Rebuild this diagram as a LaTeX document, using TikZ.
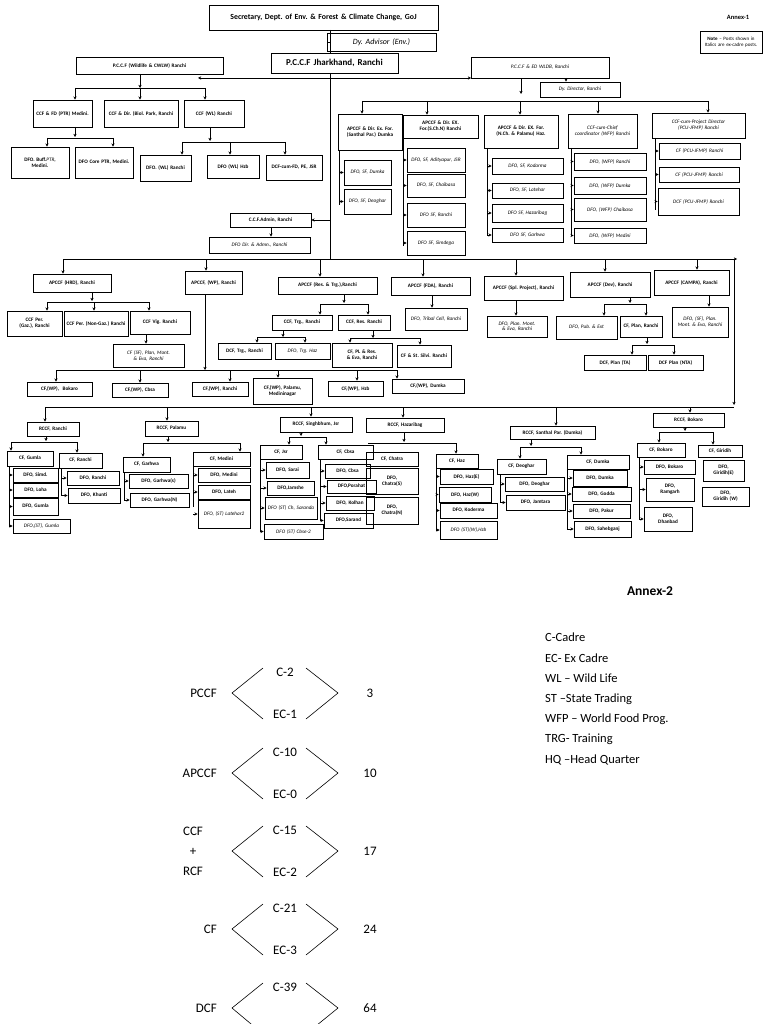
\documentclass[tikz,border=0pt]{standalone}
\usepackage{fontspec}
\setmainfont{Carlito}
\usetikzlibrary{arrows.meta}
\frenchspacing
\hyphenpenalty=10000
\exhyphenpenalty=10000
\tikzset{
 bx/.style={draw,line width=0.8pt,align=center,inner sep=0.5pt,font=\bfseries\fontsize{5.2}{5.9}\selectfont},
 it/.style={font=\itshape\fontsize{5.2}{5.9}\selectfont},
 ln/.style={line width=0.7pt},
 ar/.style={line width=0.7pt,-{Stealth[length=3.2pt,width=3.2pt]}},
 big/.style={font=\fontsize{13}{14}\selectfont,inner sep=0pt}
}
\newcommand\B[7][]{\pgfmathsetmacro\bw{#5-#3}\pgfmathsetmacro\bh{#6-#4}\pgfmathsetmacro\tw{#5-#3-1.5}%
 \node[bx,#1,minimum width=\bw pt,minimum height=\bh pt,text width=\tw pt] (#2) at ({(#3+#5)/2},{(#4+#6)/2}) {#7};}
\newcommand\D[3]{\draw[ar] (#1,#2) -- (#1,0 |- #3.north);}
\newcommand\R[2]{\draw[ar] (#1,0 |- #2.west) -- (#2.west);}
\newcommand\V[3]{\draw[ln] (#1,#2) -- (#1,#3);}
\newcommand\HH[3]{\draw[ln] (#1,#3) -- (#2,#3);}
\newcommand\Dm[6]{%
 \node[big,anchor=east] (l#6) at (217,#1) {#2};
 \node[big] (t#6) at (285,{#1-21}) {#3};
 \node[big] (b#6) at (285,{#1+21}) {#4};
 \node[big] (n#6) at (370,#1) {#5};
 \draw[line width=0.6pt] (263,{#1-25}) -- (232,#1) -- (263,{#1+26});
 \draw[line width=0.6pt] (306,{#1-25}) -- (338,#1) -- (306,{#1+26});}
\begin{document}
\begin{tikzpicture}[x=1pt,y=-1pt]
\useasboundingbox (0,0) rectangle (768,1024);
\fill[white] (0,0) rectangle (768,1024);
% ---------- top
\B[font=\bfseries\fontsize{7.8}{8}\selectfont]{sec}{209}{5}{438}{30}{Secretary, Dept. of Env. \& Forest \& Climate Change, GoJ}
\B[font=\itshape\fontsize{8}{8}\selectfont]{dyadv}{327}{33}{436}{51}{Dy. Advisor (Env.)}
\B[font=\bfseries\fontsize{9}{9}\selectfont]{pccf}{271}{53}{398}{73}{P.C.C.F Jharkhand, Ranchi}
\B{wl}{76}{57}{223}{74}{P.C.C.F (Wildlife \& CWLW) Ranchi}
\B[it]{edw}{471}{57}{609}{78}{P.C.C.F \& ED WLDB, Ranchi}
\B[it]{dydir}{540}{82}{620}{97}{Dy. Director, Ranchi}
\node[font=\bfseries\fontsize{6.5}{7}\selectfont] (annex1) at (738,17) {Annex-1};
\B[font=\fontsize{5}{6.2}\selectfont]{note}{700}{31}{762}{53}{\textbf{Note} -- Posts shown in Italics are ex-cadre posts.}
\V{330}{30}{53}
\draw[ln] (330,42) -- (dyadv.west);
\V{330}{73}{259}
\draw[ar] (330,78) -- (198,78);
\draw[ar] (330,78) -- (471,78);
\draw[ar] (566,78) -- (dydir.north -| 566,0);
\draw[ar] (521,79) -- (521,94);
% ---------- wildlife
\draw[ar] (140,74) -- (140,88);
\HH{75}{205}{88}
\B{c1}{33}{100}{92}{127}{CCF \& FD (PTR) Medini.}
\B{c2}{104}{100}{178}{127}{CCF \& Dir. (Biol. Park, Ranchi}
\B{c3}{184}{100}{244}{127}{CCF (WL) Ranchi}
\D{75}{88}{c1}\D{140}{88}{c2}\D{205}{88}{c3}
\draw[ar] (75,127) -- (75,137);
\HH{47}{113}{138}
\B{d1}{11}{147}{69}{178}{DFO. Buff.\textit{\mdseries PTR},\\ Medini.}
\B{d2}{75}{147}{133}{178}{DFO Core PTR, Medini.}
\D{47}{138}{d1}\D{113}{138}{d2}
\draw[ar] (210,127) -- (210,141);
\HH{182}{285}{142}
\B{d3}{140}{155}{191}{181}{DFO. (WL) Ranchi}
\B{d4}{207}{155}{259}{178}{DFO (WL) Hzb}
\B{d5}{266}{155}{322}{180}{DCF-cum-FD, PE, JSR}
\D{182}{142}{d3}\D{230}{142}{d4}\D{285}{142}{d5}
\B{adm}{230}{213}{311}{227}{C.C.F.Admin, Ranchi}
\B[it]{dfodir}{209}{237}{310}{253}{DFO Dir. \& Admn., Ranchi}
\draw[ar] (330,0 |- adm.east) -- (adm.east);
\draw[ar] (271,227) -- (dfodir.north -| 271,0);
% ---------- ex-cadre top row
\HH{362}{709}{101}
\B{a1}{338}{114}{402}{150}{APCCF \& Dir. Ex. For. (Santhal Par.) Dumka}
\B{a2}{403}{115}{478}{138}{APCCF \& Dir. EX. For.(S.Ch.N) Ranchi}
\B{a3}{484}{115}{558}{148}{APCCF \& Dir. EX. For. (N.Ch. \& Palamu) Haz.}
\B[it]{a4}{568}{114}{637}{148}{CCF-cum-Chief coordinator (WFP) Ranchi}
\B[it]{a5}{652}{113}{745}{138}{CCF-cum-Project Director (PCU-JFMP) Ranchi}
\D{362}{101}{a1}\D{427}{101}{a2}\D{520}{101}{a3}\D{598}{101}{a4}\D{708}{101}{a5}
\B[it]{e1}{344}{160}{391}{185}{DFO, SF, Dumka}
\B[it]{e2}{344}{189}{391}{214}{DFO, SF, Deoghar}
\V{339}{150}{205}\R{339}{e1}\R{339}{e2}
\B[it]{e3}{407}{148}{465}{172}{DFO, SF, Adityapur, JSR}
\B[it]{e4}{407}{174}{465}{197}{DFO, SF, Chaibasa}
\B[it]{e5}{407}{203}{465}{227}{DFO SF, Ranchi}
\B[it]{e6}{407}{231}{465}{255}{DFO SF, Simdega}
\V{403}{138}{246}\R{403}{e3}\R{403}{e4}\R{403}{e5}\R{403}{e6}
\B[it]{e7}{492}{158}{563}{174}{DFO, SF, Kodarma}
\B[it]{e8}{492}{183}{563}{198}{DFO, SF, Latehar}
\B[it]{e9}{492}{204}{563}{222}{DFO SF, Hazaribag}
\B[it]{e10}{492}{228}{563}{242}{DFO SF, Garhwa}
\V{487}{148}{236}\R{487}{e7}\R{487}{e8}\R{487}{e9}\R{487}{e10}
\B[it]{e11}{574}{153}{646}{170}{DFO, (WFP) Ranchi}
\B[it]{e12}{574}{177}{646}{194}{DFO, (WFP) Dumka}
\B[it]{e13}{574}{198}{646}{221}{DFO, (WFP) Chaibasa}
\B[it]{e14}{574}{228}{646}{243}{DFO, (WFP) Medini}
\V{571}{148}{236}\R{571}{e11}\R{571}{e12}\R{571}{e13}\R{571}{e14}
\B[it]{e15}{659}{143}{740}{159}{CF (PCU-JFMP) Ranchi}
\B[it]{e16}{659}{167}{739}{182}{CF (PCU-JFMP) Ranchi}
\B[it]{e17}{658}{188}{739}{215}{DCF (PCU-JFMP) Ranchi}
\V{655}{138}{210}\R{655}{e15}\R{655}{e16}\R{655}{e17}
% ---------- second row
\draw[ar] (63,259) -- (737,259);
\HH{63}{330}{259}
\B{hrd}{33}{274}{111}{292}{APCCF (HRD), Ranchi}
\B{wp}{185}{271}{242}{294}{APCCF, (WP), Ranchi}
\B{res}{278}{277}{377}{294}{APCCF (Res. \& Trg.),Ranchi}
\B{fda}{391}{277}{470}{295}{APCCF (FDA), Ranchi}
\B{spl}{484}{276}{563}{300}{APCCF (Spl. Project), Ranchi}
\B{dev}{570}{272}{650}{297}{APCCF (Dev), Ranchi}
\B{campa}{654}{270}{729}{295}{APCCF (CAMPA), Ranchi}
\D{63}{259}{hrd}\D{206}{259}{wp}\D{320}{259}{res}\D{423}{259}{fda}\D{516}{259}{spl}\D{605}{259}{dev}\D{697}{259}{campa}
% hrd
\draw[ar] (92,292) -- (92,301);
\HH{47}{149}{302}
\B{p1}{7}{311}{62}{336}{CCF Per.\\ (Gaz.), Ranchi}
\B{p2}{64}{311}{128}{336}{CCF Per. (Non-Gaz.) Ranchi}
\B{p3}{130}{311}{190}{334}{CCF Vig. Ranchi}
\D{47}{302}{p1}\D{94}{302}{p2}\D{149}{302}{p3}
\B[it]{p4}{113}{344}{184}{367}{CF (SF), Plan, Mont. \& Eva, Ranchi}
\draw[ar] (146,334) -- (146,0 |- p4.north);
% wp
\draw[ar] (205,294) -- (205,370);
\HH{56}{397}{370}
\B{w1}{27}{382}{92}{396}{CF,(WP), \ Bokaro}
\B{w2}{112}{383}{168}{397}{CF,(WP), Cbsa}
\B{w3}{192}{382}{248}{396}{CF,(WP), Ranchi}
\B{w4}{253}{378}{312}{404}{CF,(WP), Palamu, Medininagar}
\B{w5}{328}{381}{383}{396}{CF,(WP), Hzb}
\B{w6}{392}{379}{464}{393}{CF,(WP), Dumka}
\D{56}{370}{w1}\D{140}{370}{w2}\D{230}{370}{w3}\D{278}{370}{w4}\D{357}{370}{w5}\D{397}{370}{w6}
% res
\draw[ar] (344,294) -- (344,303);
\HH{320}{368}{304}
\B{r1c}{272}{315}{332}{330}{CCF, Trg., Ranchi}
\B{r2c}{338}{315}{390}{330}{CCF, Res. Ranchi}
\D{320}{304}{r1c}\D{368}{304}{r2c}
\draw[ar] (283,330) -- (283,337);
\HH{257}{305}{337}
\B{t1}{218}{343}{271}{359}{DCF, Trg., Ranchi}
\B[it]{t2}{275}{343}{330}{359}{DFO, Trg. Haz}
\D{257}{337}{t1}\D{305}{337}{t2}
\draw[ar] (373,330) -- (373,338);
\HH{350}{420}{338}
\B{t3}{332}{343}{392}{367}{CF, PL \& Res. \& Eva, Ranchi}
\B{t4}{397}{345}{451}{367}{CF \& St. Silvi. Ranchi}
\D{350}{338}{t3}\D{420}{338}{t4}
% fda, spl
\B[it]{f1}{405}{308}{467}{330}{DFO, Tribal Cell, Ranchi}
\draw[ar] (432,295) -- (432,0 |- f1.north);
\B[it]{s1}{487}{316}{547}{337}{DFO, Plan. Mont. \& Eva, Ranchi}
\draw[ar] (516,300) -- (516,0 |- s1.north);
% dev
\draw[ar] (630,297) -- (630,303);
\HH{604}{646}{304}
\B[it]{v1}{556}{316}{617}{339}{DFO, Pub. \& Ext}
\B{v2}{620}{316}{662}{337}{CF, Plan, Ranchi}
\D{604}{304}{v1}\D{646}{304}{v2}
\draw[ar] (647,337) -- (647,344);
\HH{632}{674}{345}
\B{v3}{584}{355}{646}{370}{DCF, Plan (TA)}
\B{v4}{648}{355}{703}{370}{DCF Plan (NTA)}
\D{632}{345}{v3}\D{674}{345}{v4}
\B[it]{c5}{672}{307}{728}{337}{DFO, (SF), Plan. Mont. \& Eva, Ranchi}
\draw[ar] (709,295) -- (709,0 |- c5.north);
% ---------- regional row
\draw[ar] (734,259) -- (734,405);
\HH{45}{734}{407}
\B{rc1}{27}{422}{79}{436}{RCCF, Ranchi}
\B{rc2}{145}{421}{198}{436}{RCCF, Palamu}
\B{rc3}{280}{417}{352}{432}{RCCF, Singhbhum, Jsr}
\B{rc4}{366}{418}{444}{432}{RCCF, Hazaribag}
\B{rc5}{510}{426}{595}{439}{RCCF, Santhal Par. (Dumka)}
\B{rc6}{653}{413}{724}{427}{RCCF, Bokaro}
\D{45}{407}{rc1}\D{167}{407}{rc2}\D{311}{407}{rc3}\D{403}{407}{rc4}\D{556}{407}{rc5}\D{690}{407}{rc6}
% ranchi
\draw[ar] (46,436) -- (46,441);
\HH{11}{77}{442}
\B{g1}{7}{451}{53}{466}{CF, Gumla}
\B{g2}{59}{453}{102}{468}{CF, Ranchi}
\D{11}{442}{g1}\D{77}{442}{g2}
\B{g3}{13}{468}{58}{482}{DFO, Simd.}
\B{g4}{13}{483}{58}{497}{DFO, Loha}
\B{g5}{13}{498}{58}{515}{DFO, Gumla}
\B[it]{g6}{13}{519}{70}{533}{DFO,(ST), Gumla}
\V{9}{466}{526}\R{9}{g3}\R{9}{g4}\R{9}{g5}\R{9}{g6}
\B{g7}{67}{471}{119}{485}{DFO, Ranchi}
\B{g8}{68}{488}{120}{503}{DFO, Khunti}
\V{61}{468}{496}\R{61}{g7}\R{61}{g8}
% palamu
\draw[ar] (168,436) -- (168,442);
\HH{143}{240}{443}
\B{h1}{123}{457}{170}{472}{CF, Garhwa}
\B{h2}{193}{452}{250}{466}{CF, Medini}
\D{143}{443}{h1}\D{240}{443}{h2}
\B{h3}{129}{474}{188}{488}{DFO, Garhwa(s)}
\B{h4}{130}{493}{189}{507}{DFO, Garhwa(N)}
\V{124}{472}{500}\R{124}{h3}\R{124}{h4}
\B{h5}{198}{468}{250}{482}{DFO, Medini}
\B{h6}{198}{485}{250}{499}{DFO, Lateh}
\B[it]{h7}{198}{500}{250}{528}{DFO, (ST) Latehar2}
\V{193}{466}{507}\R{193}{h5}\R{193}{h6}\R{193}{h7}
% singhbhum
\draw[ar] (301,432) -- (301,436);
\HH{289}{326}{437}
\B{k1}{260}{445}{302}{459}{CF, Jsr}
\B{k2}{318}{445}{373}{459}{CF, Cbsa}
\D{289}{437}{k1}\D{326}{437}{k2}
\B{k3}{266}{462}{309}{478}{DFO, Sarai}
\B{k4}{267}{481}{314}{495}{DFO,Jamshe}
\B[it]{k5}{265}{497}{317}{519}{DFO (ST) Ch, Saranda}
\B[it]{k6}{264}{524}{323}{539}{DFO (ST) Cbse-2}
\V{260}{459}{531}\R{260}{k3}\R{260}{k4}\R{260}{k5}\R{260}{k6}
\B{k7}{325}{464}{370}{478}{DFO, Cbsa}
\B{k8}{327}{480}{376}{493}{DFO,Porahat}
\B{k9}{326}{496}{374}{510}{DFO, Kolhan}
\B{k10}{324}{513}{373}{528}{DFO,Sarand}
\V{320}{459}{520}\R{320}{k7}\R{320}{k8}\R{320}{k9}\R{320}{k10}
% hazaribag
\draw[ar] (404,432) -- (404,442);
\HH{368}{456}{443}
\B{m1}{366}{452}{418}{466}{CF, Chatra}
\B{m2}{436}{454}{478}{468}{CF, Haz}
\D{456}{443}{m2}
\B{m3}{366}{468}{418}{494}{DFO,\\ Chatra(S)}
\B{m4}{366}{497}{418}{524}{DFO,\\ Chatra(N)}
\B{m5}{440}{469}{493}{484}{DFO, Haz(E)}
\B{m6}{439}{487}{491}{502}{DFO, Haz(W)}
\B{m7}{440}{503}{497}{518}{DFO, Koderma}
\B[it]{m8}{440}{521}{497}{539}{DFO (ST)(W),Hzb}
\V{436}{468}{530}\R{436}{m5}\R{436}{m6}\R{436}{m7}\R{436}{m8}
% santhal
\draw[ar] (531,439) -- (531,446);
\HH{520}{581}{447}
\B{q1}{497}{459}{546}{474}{CF, Deoghar}
\B{q2}{567}{455}{629}{469}{CF, Dumka}
\D{520}{447}{q1}\D{581}{447}{q2}
\B{q3}{505}{477}{564}{491}{DFO, Deoghar}
\B{q4}{506}{495}{565}{510}{DFO, Jamtara}
\V{500}{474}{503}\R{500}{q3}\R{500}{q4}
\B{q5}{573}{470}{627}{486}{DFO, Dumka}
\B{q6}{572}{487}{631}{501}{DFO, Godda}
\B{q7}{573}{504}{630}{518}{DFO, Pakur}
\B{q8}{574}{521}{631}{537}{DFO, Sahebganj}
\V{567}{469}{529}\R{567}{q5}\R{567}{q6}\R{567}{q7}\R{567}{q8}
% bokaro
\draw[ar] (685,427) -- (685,431);
\HH{659}{713}{432}
\B{u1}{637}{443}{685}{457}{CF, Bokaro}
\B{u2}{698}{445}{742}{457}{CF, Giridih}
\D{659}{432}{u1}\D{713}{432}{u2}
\B{u3}{644}{460}{695}{474}{DFO, Bokaro}
\B{u4}{646}{478}{694}{501}{DFO,\\ Ramgarh}
\B{u5}{644}{507}{692}{531}{DFO,\\ Dhanbad}
\V{639}{457}{519}\R{639}{u3}\R{639}{u4}\R{639}{u5}
\B{u6}{703}{460}{744}{481}{DFO,\\ Giridih(E)}
\B{u7}{702}{487}{749}{506}{DFO,\\ Giridih (W)}
% ---------- Annex-2
\node[font=\bfseries\fontsize{13.5}{15}\selectfont] (annex2) at (650,591) {Annex-2};
\node[big,anchor=west,align=left,font=\fontsize{12.5}{20.2}\selectfont] (legend) at (545,699) {C-Cadre\\EC- Ex Cadre\\WL -- Wild Life\\ST --State Trading\\WFP -- World Food Prog.\\TRG- Training\\HQ --Head Quarter};
\Dm{693}{PCCF}{C-2}{EC-1}{3}{1}
\Dm{773}{APCCF}{C-10}{EC-0}{10}{2}
\Dm{851}{}{C-15}{EC-2}{17}{3}
\node[big,align=center,font=\fontsize{13}{20}\selectfont] (ccfrcf) at (193,851) {CCF\\+\\RCF};
\Dm{929}{CF}{C-21}{EC-3}{24}{4}
\Dm{1008}{DCF}{C-39}{EC-25}{64}{5}
\end{tikzpicture}
\end{document}
